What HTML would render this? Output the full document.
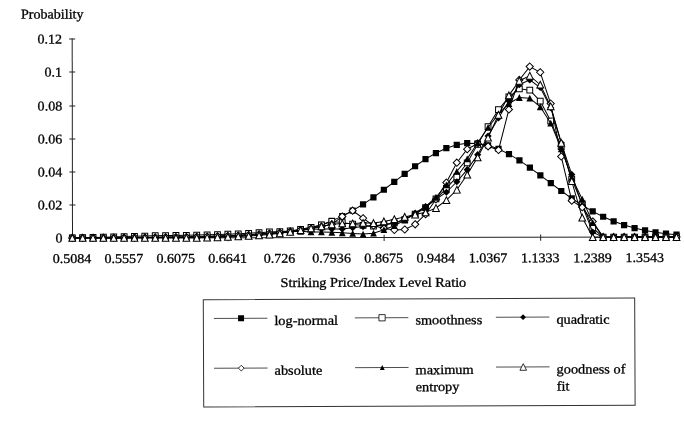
<!DOCTYPE html>
<html><head><meta charset="utf-8"><title>Chart</title>
<style>html,body{margin:0;padding:0;background:#fff;}body{width:684px;height:430px;position:relative;overflow:hidden;}svg text{font-family:"Liberation Serif",serif;font-size:13.4px;stroke:#000;stroke-width:0.3px;}</style></head>
<body>
<svg width="684" height="430" viewBox="0 0 684 430" style="position:absolute;left:0;top:0" fill="#000">
<rect width="684" height="430" fill="#fff"/>
<g transform="rotate(-0.09 374 237.4)">
<g stroke="#222" stroke-width="1" fill="none">
<line x1="72.5" y1="38" x2="72.5" y2="238"/>
<line x1="72" y1="237.5" x2="677" y2="237.5"/>
<line x1="69.5" y1="38.5" x2="75.5" y2="38.5"/>
<line x1="69.5" y1="71.5" x2="75.5" y2="71.5"/>
<line x1="69.5" y1="105.5" x2="75.5" y2="105.5"/>
<line x1="69.5" y1="138.5" x2="75.5" y2="138.5"/>
<line x1="69.5" y1="171.5" x2="75.5" y2="171.5"/>
<line x1="69.5" y1="204.5" x2="75.5" y2="204.5"/>
<line x1="228.08" y1="234.8" x2="228.08" y2="241"/>
<line x1="384.13" y1="234.8" x2="384.13" y2="241"/>
<line x1="540.66" y1="234.8" x2="540.66" y2="241"/>
</g>
<text transform="translate(62.4 42.9) scale(1.05 1)" text-anchor="end">0.12</text>
<text transform="translate(62.4 75.9) scale(1.05 1)" text-anchor="end">0.1</text>
<text transform="translate(62.4 109.9) scale(1.05 1)" text-anchor="end">0.08</text>
<text transform="translate(62.4 142.9) scale(1.05 1)" text-anchor="end">0.06</text>
<text transform="translate(62.4 175.9) scale(1.05 1)" text-anchor="end">0.04</text>
<text transform="translate(62.4 208.9) scale(1.05 1)" text-anchor="end">0.02</text>
<text transform="translate(62.4 241.9) scale(1.05 1)" text-anchor="end">0</text>
<text transform="translate(72 262.5) scale(1.05 1)" text-anchor="middle">0.5084</text>
<text transform="translate(123.81 262.5) scale(1.05 1)" text-anchor="middle">0.5557</text>
<text transform="translate(175.67 262.5) scale(1.05 1)" text-anchor="middle">0.6075</text>
<text transform="translate(227.58 262.5) scale(1.05 1)" text-anchor="middle">0.6641</text>
<text transform="translate(279.54 262.5) scale(1.05 1)" text-anchor="middle">0.726</text>
<text transform="translate(331.56 262.5) scale(1.05 1)" text-anchor="middle">0.7936</text>
<text transform="translate(383.63 262.5) scale(1.05 1)" text-anchor="middle">0.8675</text>
<text transform="translate(435.75 262.5) scale(1.05 1)" text-anchor="middle">0.9484</text>
<text transform="translate(487.93 262.5) scale(1.05 1)" text-anchor="middle">1.0367</text>
<text transform="translate(540.16 262.5) scale(1.05 1)" text-anchor="middle">1.1333</text>
<text transform="translate(592.44 262.5) scale(1.05 1)" text-anchor="middle">1.2389</text>
<text transform="translate(644.77 262.5) scale(1.05 1)" text-anchor="middle">1.3543</text>
<text transform="translate(21.4 18) scale(1.05 1)" text-anchor="start">Probability</text>
<text transform="translate(373.3 286.8) scale(1.066 1)" text-anchor="middle">Striking Price/Index Level Ratio</text>
<polyline points="72.3,237.4 82.66,237.38 93.02,237.36 103.38,237.32 113.74,237.29 124.11,237.24 134.47,237.18 144.84,237.11 155.22,237.02 165.59,236.92 175.97,236.79 186.34,236.63 196.72,236.44 207.11,236.2 217.49,235.92 227.88,235.57 238.27,235.14 248.66,234.61 259.05,233.98 269.44,233.2 279.84,232.24 290.24,231.08 300.64,229.66 311.05,227.93 321.45,224.74 331.86,220.82 342.27,216.1 352.68,210.58 363.1,204.28 373.51,197.29 383.93,189.76 394.35,181.9 404.77,173.98 415.2,166.33 425.62,159.27 436.05,153.16 446.48,148.31 456.92,144.98 467.35,143.36 477.79,143.54 488.23,145.51 498.67,149.16 509.11,154.29 519.56,160.62 530.01,167.82 540.46,175.56 550.91,183.49 561.36,191.3 571.82,198.74 582.28,205.6 592.74,211.75 603.2,217.11 613.66,221.66 624.13,225.43 634.6,228.48 645.07,230.89 655.54,232.75 666.02,234.15 676.5,235.18" fill="none" stroke="#000" stroke-width="1"/>
<rect x="69.2" y="234.3" width="6.2" height="6.2" fill="#000" stroke="none"/>
<rect x="79.56" y="234.28" width="6.2" height="6.2" fill="#000" stroke="none"/>
<rect x="89.92" y="234.26" width="6.2" height="6.2" fill="#000" stroke="none"/>
<rect x="100.28" y="234.22" width="6.2" height="6.2" fill="#000" stroke="none"/>
<rect x="110.64" y="234.19" width="6.2" height="6.2" fill="#000" stroke="none"/>
<rect x="121.01" y="234.14" width="6.2" height="6.2" fill="#000" stroke="none"/>
<rect x="131.37" y="234.08" width="6.2" height="6.2" fill="#000" stroke="none"/>
<rect x="141.74" y="234.01" width="6.2" height="6.2" fill="#000" stroke="none"/>
<rect x="152.12" y="233.92" width="6.2" height="6.2" fill="#000" stroke="none"/>
<rect x="162.49" y="233.82" width="6.2" height="6.2" fill="#000" stroke="none"/>
<rect x="172.87" y="233.69" width="6.2" height="6.2" fill="#000" stroke="none"/>
<rect x="183.24" y="233.53" width="6.2" height="6.2" fill="#000" stroke="none"/>
<rect x="193.62" y="233.34" width="6.2" height="6.2" fill="#000" stroke="none"/>
<rect x="204.01" y="233.1" width="6.2" height="6.2" fill="#000" stroke="none"/>
<rect x="214.39" y="232.82" width="6.2" height="6.2" fill="#000" stroke="none"/>
<rect x="224.78" y="232.47" width="6.2" height="6.2" fill="#000" stroke="none"/>
<rect x="235.17" y="232.04" width="6.2" height="6.2" fill="#000" stroke="none"/>
<rect x="245.56" y="231.51" width="6.2" height="6.2" fill="#000" stroke="none"/>
<rect x="255.95" y="230.88" width="6.2" height="6.2" fill="#000" stroke="none"/>
<rect x="266.34" y="230.1" width="6.2" height="6.2" fill="#000" stroke="none"/>
<rect x="276.74" y="229.14" width="6.2" height="6.2" fill="#000" stroke="none"/>
<rect x="287.14" y="227.98" width="6.2" height="6.2" fill="#000" stroke="none"/>
<rect x="297.54" y="226.56" width="6.2" height="6.2" fill="#000" stroke="none"/>
<rect x="307.95" y="224.83" width="6.2" height="6.2" fill="#000" stroke="none"/>
<rect x="318.35" y="221.64" width="6.2" height="6.2" fill="#000" stroke="none"/>
<rect x="328.76" y="217.72" width="6.2" height="6.2" fill="#000" stroke="none"/>
<rect x="339.17" y="213" width="6.2" height="6.2" fill="#000" stroke="none"/>
<rect x="349.58" y="207.48" width="6.2" height="6.2" fill="#000" stroke="none"/>
<rect x="360" y="201.18" width="6.2" height="6.2" fill="#000" stroke="none"/>
<rect x="370.41" y="194.19" width="6.2" height="6.2" fill="#000" stroke="none"/>
<rect x="380.83" y="186.66" width="6.2" height="6.2" fill="#000" stroke="none"/>
<rect x="391.25" y="178.8" width="6.2" height="6.2" fill="#000" stroke="none"/>
<rect x="401.67" y="170.88" width="6.2" height="6.2" fill="#000" stroke="none"/>
<rect x="412.1" y="163.23" width="6.2" height="6.2" fill="#000" stroke="none"/>
<rect x="422.52" y="156.17" width="6.2" height="6.2" fill="#000" stroke="none"/>
<rect x="432.95" y="150.06" width="6.2" height="6.2" fill="#000" stroke="none"/>
<rect x="443.38" y="145.21" width="6.2" height="6.2" fill="#000" stroke="none"/>
<rect x="453.82" y="141.88" width="6.2" height="6.2" fill="#000" stroke="none"/>
<rect x="464.25" y="140.26" width="6.2" height="6.2" fill="#000" stroke="none"/>
<rect x="474.69" y="140.44" width="6.2" height="6.2" fill="#000" stroke="none"/>
<rect x="485.13" y="142.41" width="6.2" height="6.2" fill="#000" stroke="none"/>
<rect x="495.57" y="146.06" width="6.2" height="6.2" fill="#000" stroke="none"/>
<rect x="506.01" y="151.19" width="6.2" height="6.2" fill="#000" stroke="none"/>
<rect x="516.46" y="157.52" width="6.2" height="6.2" fill="#000" stroke="none"/>
<rect x="526.91" y="164.72" width="6.2" height="6.2" fill="#000" stroke="none"/>
<rect x="537.36" y="172.46" width="6.2" height="6.2" fill="#000" stroke="none"/>
<rect x="547.81" y="180.39" width="6.2" height="6.2" fill="#000" stroke="none"/>
<rect x="558.26" y="188.2" width="6.2" height="6.2" fill="#000" stroke="none"/>
<rect x="568.72" y="195.64" width="6.2" height="6.2" fill="#000" stroke="none"/>
<rect x="579.18" y="202.5" width="6.2" height="6.2" fill="#000" stroke="none"/>
<rect x="589.64" y="208.65" width="6.2" height="6.2" fill="#000" stroke="none"/>
<rect x="600.1" y="214.01" width="6.2" height="6.2" fill="#000" stroke="none"/>
<rect x="610.56" y="218.56" width="6.2" height="6.2" fill="#000" stroke="none"/>
<rect x="621.03" y="222.33" width="6.2" height="6.2" fill="#000" stroke="none"/>
<rect x="631.5" y="225.38" width="6.2" height="6.2" fill="#000" stroke="none"/>
<rect x="641.97" y="227.79" width="6.2" height="6.2" fill="#000" stroke="none"/>
<rect x="652.44" y="229.65" width="6.2" height="6.2" fill="#000" stroke="none"/>
<rect x="662.92" y="231.05" width="6.2" height="6.2" fill="#000" stroke="none"/>
<rect x="673.4" y="232.08" width="6.2" height="6.2" fill="#000" stroke="none"/>
<polyline points="72.3,237.41 82.66,237.18 93.02,236.95 103.38,236.71 113.74,236.47 124.11,236.21 134.47,235.95 144.84,235.68 155.22,235.39 165.59,235.29 175.97,235.16 186.34,235.01 196.72,234.83 207.11,234.61 217.49,234.33 227.88,234 238.27,233.59 248.66,233.09 259.05,232.48 269.44,231.74 279.84,231.39 290.24,230.83 300.64,229.2 311.05,227.21 321.45,224.88 331.86,221.4 342.27,222.56 352.68,224.22 363.1,225.38 373.51,226.05 383.93,224.55 394.35,222.89 404.77,219.57 415.2,214.26 425.62,207.62 436.05,198.99 446.48,188.53 456.92,176.91 467.35,162.97 477.79,144.54 488.23,126.78 498.67,109.85 509.11,97.23 519.56,89.1 530.01,90.42 540.46,101.38 550.91,121.3 561.36,146.86 571.82,179.4 582.28,204.3 592.74,228.2 603.2,237.5 613.66,237.5 624.13,237.5 634.6,237.5 645.07,237.5 655.54,237.5 666.02,237.5 676.5,237.5" fill="none" stroke="#000" stroke-width="1"/>
<rect x="69.4" y="234.51" width="5.8" height="5.8" fill="#fff" stroke="#000" stroke-width="1.0"/>
<rect x="79.76" y="234.28" width="5.8" height="5.8" fill="#fff" stroke="#000" stroke-width="1.0"/>
<rect x="90.12" y="234.05" width="5.8" height="5.8" fill="#fff" stroke="#000" stroke-width="1.0"/>
<rect x="100.48" y="233.81" width="5.8" height="5.8" fill="#fff" stroke="#000" stroke-width="1.0"/>
<rect x="110.84" y="233.57" width="5.8" height="5.8" fill="#fff" stroke="#000" stroke-width="1.0"/>
<rect x="121.21" y="233.31" width="5.8" height="5.8" fill="#fff" stroke="#000" stroke-width="1.0"/>
<rect x="131.57" y="233.05" width="5.8" height="5.8" fill="#fff" stroke="#000" stroke-width="1.0"/>
<rect x="141.94" y="232.78" width="5.8" height="5.8" fill="#fff" stroke="#000" stroke-width="1.0"/>
<rect x="152.32" y="232.49" width="5.8" height="5.8" fill="#fff" stroke="#000" stroke-width="1.0"/>
<rect x="162.69" y="232.39" width="5.8" height="5.8" fill="#fff" stroke="#000" stroke-width="1.0"/>
<rect x="173.07" y="232.26" width="5.8" height="5.8" fill="#fff" stroke="#000" stroke-width="1.0"/>
<rect x="183.44" y="232.11" width="5.8" height="5.8" fill="#fff" stroke="#000" stroke-width="1.0"/>
<rect x="193.82" y="231.93" width="5.8" height="5.8" fill="#fff" stroke="#000" stroke-width="1.0"/>
<rect x="204.21" y="231.71" width="5.8" height="5.8" fill="#fff" stroke="#000" stroke-width="1.0"/>
<rect x="214.59" y="231.43" width="5.8" height="5.8" fill="#fff" stroke="#000" stroke-width="1.0"/>
<rect x="224.98" y="231.1" width="5.8" height="5.8" fill="#fff" stroke="#000" stroke-width="1.0"/>
<rect x="235.37" y="230.69" width="5.8" height="5.8" fill="#fff" stroke="#000" stroke-width="1.0"/>
<rect x="245.76" y="230.19" width="5.8" height="5.8" fill="#fff" stroke="#000" stroke-width="1.0"/>
<rect x="256.15" y="229.58" width="5.8" height="5.8" fill="#fff" stroke="#000" stroke-width="1.0"/>
<rect x="266.54" y="228.84" width="5.8" height="5.8" fill="#fff" stroke="#000" stroke-width="1.0"/>
<rect x="276.94" y="228.49" width="5.8" height="5.8" fill="#fff" stroke="#000" stroke-width="1.0"/>
<rect x="287.34" y="227.93" width="5.8" height="5.8" fill="#fff" stroke="#000" stroke-width="1.0"/>
<rect x="297.74" y="226.3" width="5.8" height="5.8" fill="#fff" stroke="#000" stroke-width="1.0"/>
<rect x="308.15" y="224.31" width="5.8" height="5.8" fill="#fff" stroke="#000" stroke-width="1.0"/>
<rect x="318.55" y="221.98" width="5.8" height="5.8" fill="#fff" stroke="#000" stroke-width="1.0"/>
<rect x="328.96" y="218.5" width="5.8" height="5.8" fill="#fff" stroke="#000" stroke-width="1.0"/>
<rect x="339.37" y="219.66" width="5.8" height="5.8" fill="#fff" stroke="#000" stroke-width="1.0"/>
<rect x="349.78" y="221.32" width="5.8" height="5.8" fill="#fff" stroke="#000" stroke-width="1.0"/>
<rect x="360.2" y="222.48" width="5.8" height="5.8" fill="#fff" stroke="#000" stroke-width="1.0"/>
<rect x="370.61" y="223.15" width="5.8" height="5.8" fill="#fff" stroke="#000" stroke-width="1.0"/>
<rect x="381.03" y="221.65" width="5.8" height="5.8" fill="#fff" stroke="#000" stroke-width="1.0"/>
<rect x="391.45" y="219.99" width="5.8" height="5.8" fill="#fff" stroke="#000" stroke-width="1.0"/>
<rect x="401.87" y="216.67" width="5.8" height="5.8" fill="#fff" stroke="#000" stroke-width="1.0"/>
<rect x="412.3" y="211.36" width="5.8" height="5.8" fill="#fff" stroke="#000" stroke-width="1.0"/>
<rect x="422.72" y="204.72" width="5.8" height="5.8" fill="#fff" stroke="#000" stroke-width="1.0"/>
<rect x="433.15" y="196.09" width="5.8" height="5.8" fill="#fff" stroke="#000" stroke-width="1.0"/>
<rect x="443.58" y="185.63" width="5.8" height="5.8" fill="#fff" stroke="#000" stroke-width="1.0"/>
<rect x="454.02" y="174.01" width="5.8" height="5.8" fill="#fff" stroke="#000" stroke-width="1.0"/>
<rect x="464.45" y="160.07" width="5.8" height="5.8" fill="#fff" stroke="#000" stroke-width="1.0"/>
<rect x="474.89" y="141.64" width="5.8" height="5.8" fill="#fff" stroke="#000" stroke-width="1.0"/>
<rect x="485.33" y="123.88" width="5.8" height="5.8" fill="#fff" stroke="#000" stroke-width="1.0"/>
<rect x="495.77" y="106.95" width="5.8" height="5.8" fill="#fff" stroke="#000" stroke-width="1.0"/>
<rect x="506.21" y="94.33" width="5.8" height="5.8" fill="#fff" stroke="#000" stroke-width="1.0"/>
<rect x="516.66" y="86.2" width="5.8" height="5.8" fill="#fff" stroke="#000" stroke-width="1.0"/>
<rect x="527.11" y="87.52" width="5.8" height="5.8" fill="#fff" stroke="#000" stroke-width="1.0"/>
<rect x="537.56" y="98.48" width="5.8" height="5.8" fill="#fff" stroke="#000" stroke-width="1.0"/>
<rect x="548.01" y="118.4" width="5.8" height="5.8" fill="#fff" stroke="#000" stroke-width="1.0"/>
<rect x="558.46" y="143.96" width="5.8" height="5.8" fill="#fff" stroke="#000" stroke-width="1.0"/>
<rect x="568.92" y="176.5" width="5.8" height="5.8" fill="#fff" stroke="#000" stroke-width="1.0"/>
<rect x="579.38" y="201.4" width="5.8" height="5.8" fill="#fff" stroke="#000" stroke-width="1.0"/>
<rect x="589.84" y="225.3" width="5.8" height="5.8" fill="#fff" stroke="#000" stroke-width="1.0"/>
<rect x="600.3" y="234.6" width="5.8" height="5.8" fill="#fff" stroke="#000" stroke-width="1.0"/>
<rect x="610.76" y="234.6" width="5.8" height="5.8" fill="#fff" stroke="#000" stroke-width="1.0"/>
<rect x="621.23" y="234.6" width="5.8" height="5.8" fill="#fff" stroke="#000" stroke-width="1.0"/>
<rect x="631.7" y="234.6" width="5.8" height="5.8" fill="#fff" stroke="#000" stroke-width="1.0"/>
<rect x="642.17" y="234.6" width="5.8" height="5.8" fill="#fff" stroke="#000" stroke-width="1.0"/>
<rect x="652.64" y="234.6" width="5.8" height="5.8" fill="#fff" stroke="#000" stroke-width="1.0"/>
<rect x="663.12" y="234.6" width="5.8" height="5.8" fill="#fff" stroke="#000" stroke-width="1.0"/>
<rect x="673.6" y="234.6" width="5.8" height="5.8" fill="#fff" stroke="#000" stroke-width="1.0"/>
<polyline points="72.3,237.41 82.66,237.39 93.02,237.36 103.38,237.33 113.74,237.3 124.11,237.25 134.47,237.2 144.84,237.13 155.22,237.05 165.59,236.95 175.97,236.82 186.34,236.67 196.72,236.49 207.11,236.27 217.49,235.99 227.88,235.66 238.27,235.25 248.66,234.75 259.05,234.14 269.44,233.4 279.84,232.49 290.24,231.38 300.64,230.03 311.05,229.2 321.45,228.87 331.86,228.87 342.27,228.87 352.68,227.71 363.1,226.54 373.51,225.88 383.93,225.05 394.35,223.22 404.77,219.24 415.2,213.43 425.62,206.62 436.05,199.32 446.48,192.35 456.92,181.89 467.35,169.77 477.79,154.83 488.23,136.24 498.67,118.15 509.11,101.21 519.56,84.95 530.01,80.13 540.46,87.77 550.91,108.02 561.36,143.05 571.82,174.75 582.28,205.96 592.74,232.52 603.2,237.5 613.66,237.5 624.13,237.5 634.6,237.5 645.07,237.5 655.54,237.5 666.02,237.5 676.5,237.5" fill="none" stroke="#000" stroke-width="1"/>
<path d="M72.3 233.81L75.9 237.41L72.3 241.01L68.7 237.41Z" fill="#000" stroke="none"/>
<path d="M82.66 233.79L86.26 237.39L82.66 240.99L79.06 237.39Z" fill="#000" stroke="none"/>
<path d="M93.02 233.76L96.62 237.36L93.02 240.96L89.42 237.36Z" fill="#000" stroke="none"/>
<path d="M103.38 233.73L106.98 237.33L103.38 240.93L99.78 237.33Z" fill="#000" stroke="none"/>
<path d="M113.74 233.7L117.34 237.3L113.74 240.9L110.14 237.3Z" fill="#000" stroke="none"/>
<path d="M124.11 233.65L127.71 237.25L124.11 240.85L120.51 237.25Z" fill="#000" stroke="none"/>
<path d="M134.47 233.6L138.07 237.2L134.47 240.8L130.87 237.2Z" fill="#000" stroke="none"/>
<path d="M144.84 233.53L148.44 237.13L144.84 240.73L141.24 237.13Z" fill="#000" stroke="none"/>
<path d="M155.22 233.45L158.82 237.05L155.22 240.65L151.62 237.05Z" fill="#000" stroke="none"/>
<path d="M165.59 233.35L169.19 236.95L165.59 240.55L161.99 236.95Z" fill="#000" stroke="none"/>
<path d="M175.97 233.22L179.57 236.82L175.97 240.42L172.37 236.82Z" fill="#000" stroke="none"/>
<path d="M186.34 233.07L189.94 236.67L186.34 240.27L182.74 236.67Z" fill="#000" stroke="none"/>
<path d="M196.72 232.89L200.32 236.49L196.72 240.09L193.12 236.49Z" fill="#000" stroke="none"/>
<path d="M207.11 232.67L210.71 236.27L207.11 239.87L203.51 236.27Z" fill="#000" stroke="none"/>
<path d="M217.49 232.39L221.09 235.99L217.49 239.59L213.89 235.99Z" fill="#000" stroke="none"/>
<path d="M227.88 232.06L231.48 235.66L227.88 239.26L224.28 235.66Z" fill="#000" stroke="none"/>
<path d="M238.27 231.65L241.87 235.25L238.27 238.85L234.67 235.25Z" fill="#000" stroke="none"/>
<path d="M248.66 231.15L252.26 234.75L248.66 238.35L245.06 234.75Z" fill="#000" stroke="none"/>
<path d="M259.05 230.54L262.65 234.14L259.05 237.74L255.45 234.14Z" fill="#000" stroke="none"/>
<path d="M269.44 229.8L273.04 233.4L269.44 237L265.84 233.4Z" fill="#000" stroke="none"/>
<path d="M279.84 228.89L283.44 232.49L279.84 236.09L276.24 232.49Z" fill="#000" stroke="none"/>
<path d="M290.24 227.78L293.84 231.38L290.24 234.98L286.64 231.38Z" fill="#000" stroke="none"/>
<path d="M300.64 226.43L304.24 230.03L300.64 233.63L297.04 230.03Z" fill="#000" stroke="none"/>
<path d="M311.05 225.6L314.65 229.2L311.05 232.8L307.45 229.2Z" fill="#000" stroke="none"/>
<path d="M321.45 225.27L325.05 228.87L321.45 232.47L317.85 228.87Z" fill="#000" stroke="none"/>
<path d="M331.86 225.27L335.46 228.87L331.86 232.47L328.26 228.87Z" fill="#000" stroke="none"/>
<path d="M342.27 225.27L345.87 228.87L342.27 232.47L338.67 228.87Z" fill="#000" stroke="none"/>
<path d="M352.68 224.11L356.28 227.71L352.68 231.31L349.08 227.71Z" fill="#000" stroke="none"/>
<path d="M363.1 222.94L366.7 226.54L363.1 230.14L359.5 226.54Z" fill="#000" stroke="none"/>
<path d="M373.51 222.28L377.11 225.88L373.51 229.48L369.91 225.88Z" fill="#000" stroke="none"/>
<path d="M383.93 221.45L387.53 225.05L383.93 228.65L380.33 225.05Z" fill="#000" stroke="none"/>
<path d="M394.35 219.62L397.95 223.22L394.35 226.82L390.75 223.22Z" fill="#000" stroke="none"/>
<path d="M404.77 215.64L408.37 219.24L404.77 222.84L401.17 219.24Z" fill="#000" stroke="none"/>
<path d="M415.2 209.83L418.8 213.43L415.2 217.03L411.6 213.43Z" fill="#000" stroke="none"/>
<path d="M425.62 203.02L429.22 206.62L425.62 210.22L422.02 206.62Z" fill="#000" stroke="none"/>
<path d="M436.05 195.72L439.65 199.32L436.05 202.92L432.45 199.32Z" fill="#000" stroke="none"/>
<path d="M446.48 188.75L450.08 192.35L446.48 195.95L442.88 192.35Z" fill="#000" stroke="none"/>
<path d="M456.92 178.29L460.52 181.89L456.92 185.49L453.32 181.89Z" fill="#000" stroke="none"/>
<path d="M467.35 166.17L470.95 169.77L467.35 173.37L463.75 169.77Z" fill="#000" stroke="none"/>
<path d="M477.79 151.23L481.39 154.83L477.79 158.43L474.19 154.83Z" fill="#000" stroke="none"/>
<path d="M488.23 132.64L491.83 136.24L488.23 139.84L484.63 136.24Z" fill="#000" stroke="none"/>
<path d="M498.67 114.55L502.27 118.15L498.67 121.75L495.07 118.15Z" fill="#000" stroke="none"/>
<path d="M509.11 97.61L512.71 101.21L509.11 104.81L505.51 101.21Z" fill="#000" stroke="none"/>
<path d="M519.56 81.35L523.16 84.95L519.56 88.55L515.96 84.95Z" fill="#000" stroke="none"/>
<path d="M530.01 76.53L533.61 80.13L530.01 83.73L526.41 80.13Z" fill="#000" stroke="none"/>
<path d="M540.46 84.17L544.06 87.77L540.46 91.37L536.86 87.77Z" fill="#000" stroke="none"/>
<path d="M550.91 104.42L554.51 108.02L550.91 111.62L547.31 108.02Z" fill="#000" stroke="none"/>
<path d="M561.36 139.45L564.96 143.05L561.36 146.65L557.76 143.05Z" fill="#000" stroke="none"/>
<path d="M571.82 171.15L575.42 174.75L571.82 178.35L568.22 174.75Z" fill="#000" stroke="none"/>
<path d="M582.28 202.36L585.88 205.96L582.28 209.56L578.68 205.96Z" fill="#000" stroke="none"/>
<path d="M592.74 228.92L596.34 232.52L592.74 236.12L589.14 232.52Z" fill="#000" stroke="none"/>
<path d="M603.2 233.9L606.8 237.5L603.2 241.1L599.6 237.5Z" fill="#000" stroke="none"/>
<path d="M613.66 233.9L617.26 237.5L613.66 241.1L610.06 237.5Z" fill="#000" stroke="none"/>
<path d="M624.13 233.9L627.73 237.5L624.13 241.1L620.53 237.5Z" fill="#000" stroke="none"/>
<path d="M634.6 233.9L638.2 237.5L634.6 241.1L631 237.5Z" fill="#000" stroke="none"/>
<path d="M645.07 233.9L648.67 237.5L645.07 241.1L641.47 237.5Z" fill="#000" stroke="none"/>
<path d="M655.54 233.9L659.14 237.5L655.54 241.1L651.94 237.5Z" fill="#000" stroke="none"/>
<path d="M666.02 233.9L669.62 237.5L666.02 241.1L662.42 237.5Z" fill="#000" stroke="none"/>
<path d="M676.5 233.9L680.1 237.5L676.5 241.1L672.9 237.5Z" fill="#000" stroke="none"/>
<polyline points="72.3,237.41 82.66,237.39 93.02,237.36 103.38,237.33 113.74,237.3 124.11,237.25 134.47,237.2 144.84,237.13 155.22,237.05 165.59,236.95 175.97,236.82 186.34,236.67 196.72,236.49 207.11,236.27 217.49,235.99 227.88,235.66 238.27,235.25 248.66,234.75 259.05,234.14 269.44,233.4 279.84,232.49 290.24,231.38 300.64,229.86 311.05,228.37 321.45,226.54 331.86,224.22 342.27,216.42 352.68,210.61 363.1,218.24 373.51,225.55 383.93,228.54 394.35,230.03 404.77,229.53 415.2,224.39 425.62,214.26 436.05,199.32 446.48,182.72 456.92,162.8 467.35,149.35 477.79,143.71 488.23,146.53 498.67,150.18 509.11,109.68 519.56,80.13 530.01,66.85 540.46,72.5 550.91,103.87 561.36,156.82 571.82,200.98 582.28,207.62 592.74,221.9 603.2,237.5 613.66,237.5 624.13,237.5 634.6,237.5 645.07,237.5 655.54,237.5 666.02,237.5 676.5,237.5" fill="none" stroke="#000" stroke-width="1"/>
<path d="M72.3 233.81L75.9 237.41L72.3 241.01L68.7 237.41Z" fill="#fff" stroke="#000" stroke-width="1.0"/>
<path d="M82.66 233.79L86.26 237.39L82.66 240.99L79.06 237.39Z" fill="#fff" stroke="#000" stroke-width="1.0"/>
<path d="M93.02 233.76L96.62 237.36L93.02 240.96L89.42 237.36Z" fill="#fff" stroke="#000" stroke-width="1.0"/>
<path d="M103.38 233.73L106.98 237.33L103.38 240.93L99.78 237.33Z" fill="#fff" stroke="#000" stroke-width="1.0"/>
<path d="M113.74 233.7L117.34 237.3L113.74 240.9L110.14 237.3Z" fill="#fff" stroke="#000" stroke-width="1.0"/>
<path d="M124.11 233.65L127.71 237.25L124.11 240.85L120.51 237.25Z" fill="#fff" stroke="#000" stroke-width="1.0"/>
<path d="M134.47 233.6L138.07 237.2L134.47 240.8L130.87 237.2Z" fill="#fff" stroke="#000" stroke-width="1.0"/>
<path d="M144.84 233.53L148.44 237.13L144.84 240.73L141.24 237.13Z" fill="#fff" stroke="#000" stroke-width="1.0"/>
<path d="M155.22 233.45L158.82 237.05L155.22 240.65L151.62 237.05Z" fill="#fff" stroke="#000" stroke-width="1.0"/>
<path d="M165.59 233.35L169.19 236.95L165.59 240.55L161.99 236.95Z" fill="#fff" stroke="#000" stroke-width="1.0"/>
<path d="M175.97 233.22L179.57 236.82L175.97 240.42L172.37 236.82Z" fill="#fff" stroke="#000" stroke-width="1.0"/>
<path d="M186.34 233.07L189.94 236.67L186.34 240.27L182.74 236.67Z" fill="#fff" stroke="#000" stroke-width="1.0"/>
<path d="M196.72 232.89L200.32 236.49L196.72 240.09L193.12 236.49Z" fill="#fff" stroke="#000" stroke-width="1.0"/>
<path d="M207.11 232.67L210.71 236.27L207.11 239.87L203.51 236.27Z" fill="#fff" stroke="#000" stroke-width="1.0"/>
<path d="M217.49 232.39L221.09 235.99L217.49 239.59L213.89 235.99Z" fill="#fff" stroke="#000" stroke-width="1.0"/>
<path d="M227.88 232.06L231.48 235.66L227.88 239.26L224.28 235.66Z" fill="#fff" stroke="#000" stroke-width="1.0"/>
<path d="M238.27 231.65L241.87 235.25L238.27 238.85L234.67 235.25Z" fill="#fff" stroke="#000" stroke-width="1.0"/>
<path d="M248.66 231.15L252.26 234.75L248.66 238.35L245.06 234.75Z" fill="#fff" stroke="#000" stroke-width="1.0"/>
<path d="M259.05 230.54L262.65 234.14L259.05 237.74L255.45 234.14Z" fill="#fff" stroke="#000" stroke-width="1.0"/>
<path d="M269.44 229.8L273.04 233.4L269.44 237L265.84 233.4Z" fill="#fff" stroke="#000" stroke-width="1.0"/>
<path d="M279.84 228.89L283.44 232.49L279.84 236.09L276.24 232.49Z" fill="#fff" stroke="#000" stroke-width="1.0"/>
<path d="M290.24 227.78L293.84 231.38L290.24 234.98L286.64 231.38Z" fill="#fff" stroke="#000" stroke-width="1.0"/>
<path d="M300.64 226.26L304.24 229.86L300.64 233.46L297.04 229.86Z" fill="#fff" stroke="#000" stroke-width="1.0"/>
<path d="M311.05 224.77L314.65 228.37L311.05 231.97L307.45 228.37Z" fill="#fff" stroke="#000" stroke-width="1.0"/>
<path d="M321.45 222.94L325.05 226.54L321.45 230.14L317.85 226.54Z" fill="#fff" stroke="#000" stroke-width="1.0"/>
<path d="M331.86 220.62L335.46 224.22L331.86 227.82L328.26 224.22Z" fill="#fff" stroke="#000" stroke-width="1.0"/>
<path d="M342.27 212.82L345.87 216.42L342.27 220.02L338.67 216.42Z" fill="#fff" stroke="#000" stroke-width="1.0"/>
<path d="M352.68 207.01L356.28 210.61L352.68 214.21L349.08 210.61Z" fill="#fff" stroke="#000" stroke-width="1.0"/>
<path d="M363.1 214.64L366.7 218.24L363.1 221.84L359.5 218.24Z" fill="#fff" stroke="#000" stroke-width="1.0"/>
<path d="M373.51 221.95L377.11 225.55L373.51 229.15L369.91 225.55Z" fill="#fff" stroke="#000" stroke-width="1.0"/>
<path d="M383.93 224.94L387.53 228.54L383.93 232.14L380.33 228.54Z" fill="#fff" stroke="#000" stroke-width="1.0"/>
<path d="M394.35 226.43L397.95 230.03L394.35 233.63L390.75 230.03Z" fill="#fff" stroke="#000" stroke-width="1.0"/>
<path d="M404.77 225.93L408.37 229.53L404.77 233.13L401.17 229.53Z" fill="#fff" stroke="#000" stroke-width="1.0"/>
<path d="M415.2 220.79L418.8 224.39L415.2 227.99L411.6 224.39Z" fill="#fff" stroke="#000" stroke-width="1.0"/>
<path d="M425.62 210.66L429.22 214.26L425.62 217.86L422.02 214.26Z" fill="#fff" stroke="#000" stroke-width="1.0"/>
<path d="M436.05 195.72L439.65 199.32L436.05 202.92L432.45 199.32Z" fill="#fff" stroke="#000" stroke-width="1.0"/>
<path d="M446.48 179.12L450.08 182.72L446.48 186.32L442.88 182.72Z" fill="#fff" stroke="#000" stroke-width="1.0"/>
<path d="M456.92 159.2L460.52 162.8L456.92 166.4L453.32 162.8Z" fill="#fff" stroke="#000" stroke-width="1.0"/>
<path d="M467.35 145.75L470.95 149.35L467.35 152.95L463.75 149.35Z" fill="#fff" stroke="#000" stroke-width="1.0"/>
<path d="M477.79 140.11L481.39 143.71L477.79 147.31L474.19 143.71Z" fill="#fff" stroke="#000" stroke-width="1.0"/>
<path d="M488.23 142.93L491.83 146.53L488.23 150.13L484.63 146.53Z" fill="#fff" stroke="#000" stroke-width="1.0"/>
<path d="M498.67 146.58L502.27 150.18L498.67 153.78L495.07 150.18Z" fill="#fff" stroke="#000" stroke-width="1.0"/>
<path d="M509.11 106.08L512.71 109.68L509.11 113.28L505.51 109.68Z" fill="#fff" stroke="#000" stroke-width="1.0"/>
<path d="M519.56 76.53L523.16 80.13L519.56 83.73L515.96 80.13Z" fill="#fff" stroke="#000" stroke-width="1.0"/>
<path d="M530.01 63.25L533.61 66.85L530.01 70.45L526.41 66.85Z" fill="#fff" stroke="#000" stroke-width="1.0"/>
<path d="M540.46 68.9L544.06 72.5L540.46 76.1L536.86 72.5Z" fill="#fff" stroke="#000" stroke-width="1.0"/>
<path d="M550.91 100.27L554.51 103.87L550.91 107.47L547.31 103.87Z" fill="#fff" stroke="#000" stroke-width="1.0"/>
<path d="M561.36 153.22L564.96 156.82L561.36 160.42L557.76 156.82Z" fill="#fff" stroke="#000" stroke-width="1.0"/>
<path d="M571.82 197.38L575.42 200.98L571.82 204.58L568.22 200.98Z" fill="#fff" stroke="#000" stroke-width="1.0"/>
<path d="M582.28 204.02L585.88 207.62L582.28 211.22L578.68 207.62Z" fill="#fff" stroke="#000" stroke-width="1.0"/>
<path d="M592.74 218.3L596.34 221.9L592.74 225.5L589.14 221.9Z" fill="#fff" stroke="#000" stroke-width="1.0"/>
<path d="M603.2 233.9L606.8 237.5L603.2 241.1L599.6 237.5Z" fill="#fff" stroke="#000" stroke-width="1.0"/>
<path d="M613.66 233.9L617.26 237.5L613.66 241.1L610.06 237.5Z" fill="#fff" stroke="#000" stroke-width="1.0"/>
<path d="M624.13 233.9L627.73 237.5L624.13 241.1L620.53 237.5Z" fill="#fff" stroke="#000" stroke-width="1.0"/>
<path d="M634.6 233.9L638.2 237.5L634.6 241.1L631 237.5Z" fill="#fff" stroke="#000" stroke-width="1.0"/>
<path d="M645.07 233.9L648.67 237.5L645.07 241.1L641.47 237.5Z" fill="#fff" stroke="#000" stroke-width="1.0"/>
<path d="M655.54 233.9L659.14 237.5L655.54 241.1L651.94 237.5Z" fill="#fff" stroke="#000" stroke-width="1.0"/>
<path d="M666.02 233.9L669.62 237.5L666.02 241.1L662.42 237.5Z" fill="#fff" stroke="#000" stroke-width="1.0"/>
<path d="M676.5 233.9L680.1 237.5L676.5 241.1L672.9 237.5Z" fill="#fff" stroke="#000" stroke-width="1.0"/>
<polyline points="72.3,237.41 82.66,237.39 93.02,237.36 103.38,237.33 113.74,237.3 124.11,237.25 134.47,237.2 144.84,237.13 155.22,237.05 165.59,236.95 175.97,236.82 186.34,236.67 196.72,236.49 207.11,236.27 217.49,235.99 227.88,235.66 238.27,235.25 248.66,234.75 259.05,234.14 269.44,233.4 279.84,232.49 290.24,231.38 300.64,231.19 311.05,231.86 321.45,231.86 331.86,232.19 342.27,232.69 352.68,233.35 363.1,234.01 373.51,233.18 383.93,229.7 394.35,225.71 404.77,220.07 415.2,212.93 425.62,206.62 436.05,197.33 446.48,185.04 456.92,171.43 467.35,158.98 477.79,142.88 488.23,127.61 498.67,114.33 509.11,103.7 519.56,97.73 530.01,98.39 540.46,107.02 550.91,123.46 561.36,149.02 571.82,177.74 582.28,199.49 592.74,222.89 603.2,237.5 613.66,237.5 624.13,237.5 634.6,237.5 645.07,237.5 655.54,237.5 666.02,237.5 676.5,237.5" fill="none" stroke="#000" stroke-width="1"/>
<path d="M72.3 234.01L75.7 240.81L68.9 240.81Z" fill="#000" stroke="none"/>
<path d="M82.66 233.99L86.06 240.79L79.26 240.79Z" fill="#000" stroke="none"/>
<path d="M93.02 233.96L96.42 240.76L89.62 240.76Z" fill="#000" stroke="none"/>
<path d="M103.38 233.93L106.78 240.73L99.98 240.73Z" fill="#000" stroke="none"/>
<path d="M113.74 233.9L117.14 240.7L110.34 240.7Z" fill="#000" stroke="none"/>
<path d="M124.11 233.85L127.51 240.65L120.71 240.65Z" fill="#000" stroke="none"/>
<path d="M134.47 233.8L137.87 240.6L131.07 240.6Z" fill="#000" stroke="none"/>
<path d="M144.84 233.73L148.24 240.53L141.44 240.53Z" fill="#000" stroke="none"/>
<path d="M155.22 233.65L158.62 240.45L151.82 240.45Z" fill="#000" stroke="none"/>
<path d="M165.59 233.55L168.99 240.35L162.19 240.35Z" fill="#000" stroke="none"/>
<path d="M175.97 233.42L179.37 240.22L172.57 240.22Z" fill="#000" stroke="none"/>
<path d="M186.34 233.27L189.74 240.07L182.94 240.07Z" fill="#000" stroke="none"/>
<path d="M196.72 233.09L200.12 239.89L193.32 239.89Z" fill="#000" stroke="none"/>
<path d="M207.11 232.87L210.51 239.67L203.71 239.67Z" fill="#000" stroke="none"/>
<path d="M217.49 232.59L220.89 239.39L214.09 239.39Z" fill="#000" stroke="none"/>
<path d="M227.88 232.26L231.28 239.06L224.48 239.06Z" fill="#000" stroke="none"/>
<path d="M238.27 231.85L241.67 238.65L234.87 238.65Z" fill="#000" stroke="none"/>
<path d="M248.66 231.35L252.06 238.15L245.26 238.15Z" fill="#000" stroke="none"/>
<path d="M259.05 230.74L262.45 237.54L255.65 237.54Z" fill="#000" stroke="none"/>
<path d="M269.44 230L272.84 236.8L266.04 236.8Z" fill="#000" stroke="none"/>
<path d="M279.84 229.09L283.24 235.89L276.44 235.89Z" fill="#000" stroke="none"/>
<path d="M290.24 227.98L293.64 234.78L286.84 234.78Z" fill="#000" stroke="none"/>
<path d="M300.64 227.79L304.04 234.59L297.24 234.59Z" fill="#000" stroke="none"/>
<path d="M311.05 228.46L314.45 235.26L307.65 235.26Z" fill="#000" stroke="none"/>
<path d="M321.45 228.46L324.85 235.26L318.05 235.26Z" fill="#000" stroke="none"/>
<path d="M331.86 228.79L335.26 235.59L328.46 235.59Z" fill="#000" stroke="none"/>
<path d="M342.27 229.29L345.67 236.09L338.87 236.09Z" fill="#000" stroke="none"/>
<path d="M352.68 229.95L356.08 236.75L349.28 236.75Z" fill="#000" stroke="none"/>
<path d="M363.1 230.61L366.5 237.41L359.7 237.41Z" fill="#000" stroke="none"/>
<path d="M373.51 229.78L376.91 236.58L370.11 236.58Z" fill="#000" stroke="none"/>
<path d="M383.93 226.3L387.33 233.1L380.53 233.1Z" fill="#000" stroke="none"/>
<path d="M394.35 222.31L397.75 229.11L390.95 229.11Z" fill="#000" stroke="none"/>
<path d="M404.77 216.67L408.17 223.47L401.37 223.47Z" fill="#000" stroke="none"/>
<path d="M415.2 209.53L418.6 216.33L411.8 216.33Z" fill="#000" stroke="none"/>
<path d="M425.62 203.22L429.02 210.02L422.22 210.02Z" fill="#000" stroke="none"/>
<path d="M436.05 193.93L439.45 200.73L432.65 200.73Z" fill="#000" stroke="none"/>
<path d="M446.48 181.64L449.88 188.44L443.08 188.44Z" fill="#000" stroke="none"/>
<path d="M456.92 168.03L460.32 174.83L453.52 174.83Z" fill="#000" stroke="none"/>
<path d="M467.35 155.58L470.75 162.38L463.95 162.38Z" fill="#000" stroke="none"/>
<path d="M477.79 139.48L481.19 146.28L474.39 146.28Z" fill="#000" stroke="none"/>
<path d="M488.23 124.21L491.63 131.01L484.83 131.01Z" fill="#000" stroke="none"/>
<path d="M498.67 110.93L502.07 117.73L495.27 117.73Z" fill="#000" stroke="none"/>
<path d="M509.11 100.3L512.51 107.1L505.71 107.1Z" fill="#000" stroke="none"/>
<path d="M519.56 94.33L522.96 101.13L516.16 101.13Z" fill="#000" stroke="none"/>
<path d="M530.01 94.99L533.41 101.79L526.61 101.79Z" fill="#000" stroke="none"/>
<path d="M540.46 103.62L543.86 110.42L537.06 110.42Z" fill="#000" stroke="none"/>
<path d="M550.91 120.06L554.31 126.86L547.51 126.86Z" fill="#000" stroke="none"/>
<path d="M561.36 145.62L564.76 152.42L557.96 152.42Z" fill="#000" stroke="none"/>
<path d="M571.82 174.34L575.22 181.14L568.42 181.14Z" fill="#000" stroke="none"/>
<path d="M582.28 196.09L585.68 202.89L578.88 202.89Z" fill="#000" stroke="none"/>
<path d="M592.74 219.49L596.14 226.29L589.34 226.29Z" fill="#000" stroke="none"/>
<path d="M603.2 234.1L606.6 240.9L599.8 240.9Z" fill="#000" stroke="none"/>
<path d="M613.66 234.1L617.06 240.9L610.26 240.9Z" fill="#000" stroke="none"/>
<path d="M624.13 234.1L627.53 240.9L620.73 240.9Z" fill="#000" stroke="none"/>
<path d="M634.6 234.1L638 240.9L631.2 240.9Z" fill="#000" stroke="none"/>
<path d="M645.07 234.1L648.47 240.9L641.67 240.9Z" fill="#000" stroke="none"/>
<path d="M655.54 234.1L658.94 240.9L652.14 240.9Z" fill="#000" stroke="none"/>
<path d="M666.02 234.1L669.42 240.9L662.62 240.9Z" fill="#000" stroke="none"/>
<path d="M676.5 234.1L679.9 240.9L673.1 240.9Z" fill="#000" stroke="none"/>
<polyline points="72.3,237.41 82.66,237.5 93.02,237.5 103.38,237.5 113.74,237.5 124.11,237.5 134.47,237.5 144.84,237.5 155.22,237.5 165.59,237.5 175.97,237.5 186.34,237.5 196.72,237.49 207.11,237.26 217.49,236.99 227.88,236.65 238.27,236.25 248.66,235.75 259.05,235.14 269.44,234.4 279.84,233.16 290.24,231.72 300.64,230.03 311.05,228.37 321.45,226.38 331.86,224.22 342.27,223.39 352.68,223.39 363.1,222.89 373.51,223.06 383.93,221.4 394.35,219.24 404.77,216.92 415.2,214.59 425.62,212.43 436.05,208.12 446.48,200.32 456.92,189.86 467.35,174.75 477.79,157.49 488.23,137.73 498.67,114.99 509.11,95.57 519.56,80.96 530.01,75.98 540.46,84.95 550.91,106.53 561.36,143.05 571.82,181.39 582.28,217.91 592.74,237.5 603.2,237.5 613.66,237.5 624.13,237.5 634.6,237.5 645.07,237.5 655.54,237.5 666.02,237.5 676.5,237.5" fill="none" stroke="#000" stroke-width="1"/>
<path d="M72.3 234.01L75.7 240.81L68.9 240.81Z" fill="#fff" stroke="#000" stroke-width="1.0"/>
<path d="M82.66 234.1L86.06 240.9L79.26 240.9Z" fill="#fff" stroke="#000" stroke-width="1.0"/>
<path d="M93.02 234.1L96.42 240.9L89.62 240.9Z" fill="#fff" stroke="#000" stroke-width="1.0"/>
<path d="M103.38 234.1L106.78 240.9L99.98 240.9Z" fill="#fff" stroke="#000" stroke-width="1.0"/>
<path d="M113.74 234.1L117.14 240.9L110.34 240.9Z" fill="#fff" stroke="#000" stroke-width="1.0"/>
<path d="M124.11 234.1L127.51 240.9L120.71 240.9Z" fill="#fff" stroke="#000" stroke-width="1.0"/>
<path d="M134.47 234.1L137.87 240.9L131.07 240.9Z" fill="#fff" stroke="#000" stroke-width="1.0"/>
<path d="M144.84 234.1L148.24 240.9L141.44 240.9Z" fill="#fff" stroke="#000" stroke-width="1.0"/>
<path d="M155.22 234.1L158.62 240.9L151.82 240.9Z" fill="#fff" stroke="#000" stroke-width="1.0"/>
<path d="M165.59 234.1L168.99 240.9L162.19 240.9Z" fill="#fff" stroke="#000" stroke-width="1.0"/>
<path d="M175.97 234.1L179.37 240.9L172.57 240.9Z" fill="#fff" stroke="#000" stroke-width="1.0"/>
<path d="M186.34 234.1L189.74 240.9L182.94 240.9Z" fill="#fff" stroke="#000" stroke-width="1.0"/>
<path d="M196.72 234.09L200.12 240.89L193.32 240.89Z" fill="#fff" stroke="#000" stroke-width="1.0"/>
<path d="M207.11 233.86L210.51 240.66L203.71 240.66Z" fill="#fff" stroke="#000" stroke-width="1.0"/>
<path d="M217.49 233.59L220.89 240.39L214.09 240.39Z" fill="#fff" stroke="#000" stroke-width="1.0"/>
<path d="M227.88 233.25L231.28 240.05L224.48 240.05Z" fill="#fff" stroke="#000" stroke-width="1.0"/>
<path d="M238.27 232.85L241.67 239.65L234.87 239.65Z" fill="#fff" stroke="#000" stroke-width="1.0"/>
<path d="M248.66 232.35L252.06 239.15L245.26 239.15Z" fill="#fff" stroke="#000" stroke-width="1.0"/>
<path d="M259.05 231.74L262.45 238.54L255.65 238.54Z" fill="#fff" stroke="#000" stroke-width="1.0"/>
<path d="M269.44 231L272.84 237.8L266.04 237.8Z" fill="#fff" stroke="#000" stroke-width="1.0"/>
<path d="M279.84 229.76L283.24 236.56L276.44 236.56Z" fill="#fff" stroke="#000" stroke-width="1.0"/>
<path d="M290.24 228.32L293.64 235.12L286.84 235.12Z" fill="#fff" stroke="#000" stroke-width="1.0"/>
<path d="M300.64 226.63L304.04 233.43L297.24 233.43Z" fill="#fff" stroke="#000" stroke-width="1.0"/>
<path d="M311.05 224.97L314.45 231.77L307.65 231.77Z" fill="#fff" stroke="#000" stroke-width="1.0"/>
<path d="M321.45 222.98L324.85 229.78L318.05 229.78Z" fill="#fff" stroke="#000" stroke-width="1.0"/>
<path d="M331.86 220.82L335.26 227.62L328.46 227.62Z" fill="#fff" stroke="#000" stroke-width="1.0"/>
<path d="M342.27 219.99L345.67 226.79L338.87 226.79Z" fill="#fff" stroke="#000" stroke-width="1.0"/>
<path d="M352.68 219.99L356.08 226.79L349.28 226.79Z" fill="#fff" stroke="#000" stroke-width="1.0"/>
<path d="M363.1 219.49L366.5 226.29L359.7 226.29Z" fill="#fff" stroke="#000" stroke-width="1.0"/>
<path d="M373.51 219.66L376.91 226.46L370.11 226.46Z" fill="#fff" stroke="#000" stroke-width="1.0"/>
<path d="M383.93 218L387.33 224.8L380.53 224.8Z" fill="#fff" stroke="#000" stroke-width="1.0"/>
<path d="M394.35 215.84L397.75 222.64L390.95 222.64Z" fill="#fff" stroke="#000" stroke-width="1.0"/>
<path d="M404.77 213.52L408.17 220.32L401.37 220.32Z" fill="#fff" stroke="#000" stroke-width="1.0"/>
<path d="M415.2 211.19L418.6 217.99L411.8 217.99Z" fill="#fff" stroke="#000" stroke-width="1.0"/>
<path d="M425.62 209.03L429.02 215.83L422.22 215.83Z" fill="#fff" stroke="#000" stroke-width="1.0"/>
<path d="M436.05 204.72L439.45 211.52L432.65 211.52Z" fill="#fff" stroke="#000" stroke-width="1.0"/>
<path d="M446.48 196.92L449.88 203.72L443.08 203.72Z" fill="#fff" stroke="#000" stroke-width="1.0"/>
<path d="M456.92 186.46L460.32 193.26L453.52 193.26Z" fill="#fff" stroke="#000" stroke-width="1.0"/>
<path d="M467.35 171.35L470.75 178.15L463.95 178.15Z" fill="#fff" stroke="#000" stroke-width="1.0"/>
<path d="M477.79 154.09L481.19 160.89L474.39 160.89Z" fill="#fff" stroke="#000" stroke-width="1.0"/>
<path d="M488.23 134.33L491.63 141.13L484.83 141.13Z" fill="#fff" stroke="#000" stroke-width="1.0"/>
<path d="M498.67 111.59L502.07 118.39L495.27 118.39Z" fill="#fff" stroke="#000" stroke-width="1.0"/>
<path d="M509.11 92.17L512.51 98.97L505.71 98.97Z" fill="#fff" stroke="#000" stroke-width="1.0"/>
<path d="M519.56 77.56L522.96 84.36L516.16 84.36Z" fill="#fff" stroke="#000" stroke-width="1.0"/>
<path d="M530.01 72.58L533.41 79.38L526.61 79.38Z" fill="#fff" stroke="#000" stroke-width="1.0"/>
<path d="M540.46 81.55L543.86 88.35L537.06 88.35Z" fill="#fff" stroke="#000" stroke-width="1.0"/>
<path d="M550.91 103.13L554.31 109.93L547.51 109.93Z" fill="#fff" stroke="#000" stroke-width="1.0"/>
<path d="M561.36 139.65L564.76 146.45L557.96 146.45Z" fill="#fff" stroke="#000" stroke-width="1.0"/>
<path d="M571.82 177.99L575.22 184.79L568.42 184.79Z" fill="#fff" stroke="#000" stroke-width="1.0"/>
<path d="M582.28 214.51L585.68 221.31L578.88 221.31Z" fill="#fff" stroke="#000" stroke-width="1.0"/>
<path d="M592.74 234.1L596.14 240.9L589.34 240.9Z" fill="#fff" stroke="#000" stroke-width="1.0"/>
<path d="M603.2 234.1L606.6 240.9L599.8 240.9Z" fill="#fff" stroke="#000" stroke-width="1.0"/>
<path d="M613.66 234.1L617.06 240.9L610.26 240.9Z" fill="#fff" stroke="#000" stroke-width="1.0"/>
<path d="M624.13 234.1L627.53 240.9L620.73 240.9Z" fill="#fff" stroke="#000" stroke-width="1.0"/>
<path d="M634.6 234.1L638 240.9L631.2 240.9Z" fill="#fff" stroke="#000" stroke-width="1.0"/>
<path d="M645.07 234.1L648.47 240.9L641.67 240.9Z" fill="#fff" stroke="#000" stroke-width="1.0"/>
<path d="M655.54 234.1L658.94 240.9L652.14 240.9Z" fill="#fff" stroke="#000" stroke-width="1.0"/>
<path d="M666.02 234.1L669.42 240.9L662.62 240.9Z" fill="#fff" stroke="#000" stroke-width="1.0"/>
<path d="M676.5 234.1L679.9 240.9L673.1 240.9Z" fill="#fff" stroke="#000" stroke-width="1.0"/>
</g>
<g transform="rotate(-0.24 419 352.5)">
<rect x="203.5" y="298.9" width="431.4" height="107.2" fill="#fff" stroke="#333" stroke-width="1"/>
<line x1="214" y1="317.6" x2="267.5" y2="317.6" stroke="#222" stroke-width="0.8"/>
<rect x="238.19" y="314.59" width="6.01" height="6.01" fill="#000" stroke="none"/>
<text transform="translate(274.5 324.4) scale(1.07 1)" text-anchor="start">log-normal</text>
<line x1="355" y1="317.6" x2="408.5" y2="317.6" stroke="#222" stroke-width="0.8"/>
<rect x="379.07" y="314.47" width="6.26" height="6.26" fill="#fff" stroke="#000" stroke-width="0.8"/>
<text transform="translate(415.5 324.4) scale(1.07 1)" text-anchor="start">smoothness</text>
<line x1="496" y1="317.6" x2="549.5" y2="317.6" stroke="#222" stroke-width="0.8"/>
<path d="M523.2 314.72L526.08 317.6L523.2 320.48L520.32 317.6Z" fill="#000" stroke="none"/>
<text transform="translate(556.5 324.4) scale(1.07 1)" text-anchor="start">quadratic</text>
<line x1="214" y1="367.4" x2="267.5" y2="367.4" stroke="#222" stroke-width="0.8"/>
<path d="M241.2 364.52L244.08 367.4L241.2 370.28L238.32 367.4Z" fill="#fff" stroke="#000" stroke-width="0.8"/>
<text transform="translate(274.5 374.2) scale(1.07 1)" text-anchor="start">absolute</text>
<line x1="355" y1="367.4" x2="408.5" y2="367.4" stroke="#222" stroke-width="0.8"/>
<path d="M382.2 364.95L384.65 369.85L379.75 369.85Z" fill="#000" stroke="none"/>
<text transform="translate(415.5 374.2) scale(1.07 1)" text-anchor="start">maximum</text>
<text transform="translate(415.5 391.2) scale(1.07 1)" text-anchor="start">entropy</text>
<line x1="496" y1="367.4" x2="549.5" y2="367.4" stroke="#222" stroke-width="0.8"/>
<path d="M523.2 364.07L526.53 370.73L519.87 370.73Z" fill="#fff" stroke="#000" stroke-width="0.8"/>
<text transform="translate(556.5 374.2) scale(1.07 1)" text-anchor="start">goodness of</text>
<text transform="translate(556.5 391.2) scale(1.07 1)" text-anchor="start">fit</text>
</g>
</svg>
</body></html>
